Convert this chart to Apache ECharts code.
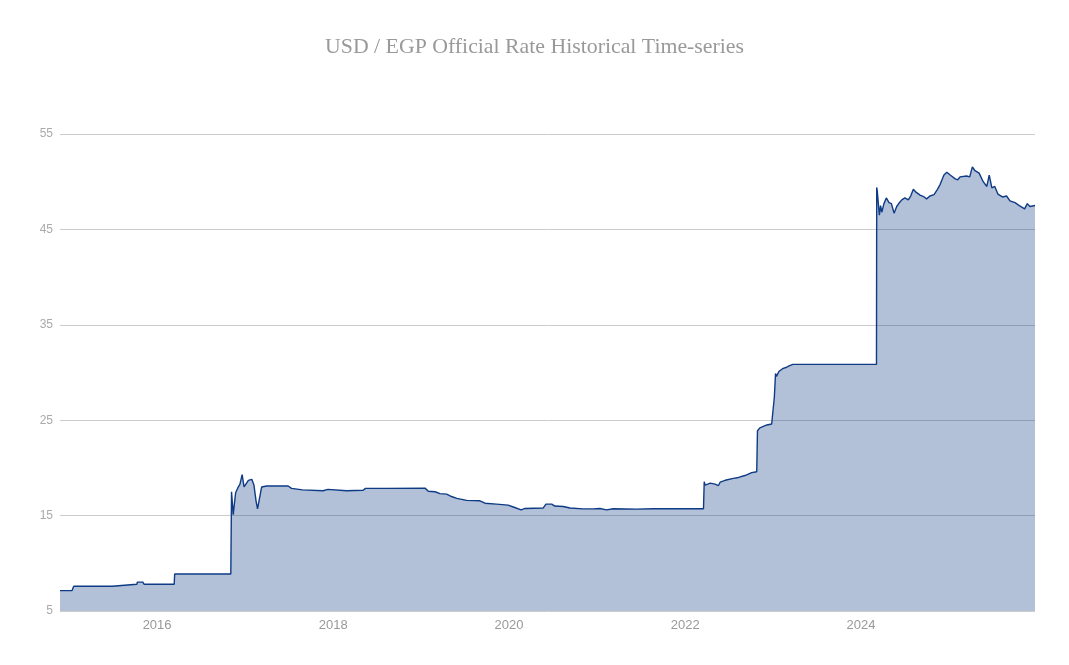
<!DOCTYPE html>
<html>
<head>
<meta charset="utf-8">
<script src="https://cdn.jsdelivr.net/npm/echarts@6/dist/echarts.min.js"></script>
<style>
html,body{margin:0;padding:0;background:#fff;}
#chart{width:1069px;height:665px;}
</style>
</head>
<body>
<div id="chart"></div>
<script>
const chartTitle = 'USD / EGP Official Rate Historical Time-series';
const yTicks = [5, 15, 25, 35, 45, 55];
const xTickYears = ['2016', '2018', '2020', '2022', '2024'];

const dates = [
'2014-11-24','2015-01-13','2015-01-20','2015-06-29','2015-07-05','2015-10-09','2015-10-11','2015-11-03','2015-11-08','2016-03-12','2016-03-14','2016-11-02',
'2016-11-05','2016-11-12','2016-11-22','2016-12-01','2016-12-10','2016-12-19','2016-12-27','2017-01-04','2017-01-14','2017-01-28','2017-02-06','2017-02-15','2017-02-21','2017-02-28','2017-03-10','2017-03-31','2017-06-28','2017-07-12','2017-08-27','2017-11-20','2017-12-10','2018-02-26','2018-05-05','2018-05-15','2018-08-11','2019-01-17','2019-01-31','2019-02-28','2019-03-20','2019-04-17','2019-05-07','2019-05-29','2019-07-09','2019-09-02','2019-09-23','2019-11-10','2019-12-28','2020-01-19','2020-02-20','2020-03-07','2020-05-22','2020-06-02','2020-06-26','2020-07-09','2020-08-13','2020-09-10','2020-11-03','2020-12-16','2021-01-12','2021-02-09','2021-03-08','2021-06-13','2021-08-22','2022-03-18',
'2022-03-21','2022-03-25','2022-04-15','2022-05-05','2022-05-19','2022-05-26','2022-06-16','2022-07-20','2022-08-10','2022-09-06','2022-10-04','2022-10-25','2022-10-28','2022-11-07','2022-12-06','2022-12-26','2023-01-03','2023-01-06','2023-01-11','2023-01-15','2023-01-25','2023-02-09','2023-02-26','2023-03-08','2023-03-24','2024-03-05',
'2024-03-06','2024-03-08','2024-03-17','2024-03-22','2024-03-27','2024-04-05','2024-04-15','2024-04-26','2024-05-06','2024-05-17','2024-05-28','2024-06-08','2024-06-18','2024-07-01','2024-07-15','2024-07-25','2024-08-05','2024-08-16','2024-09-02','2024-09-19','2024-09-29','2024-10-13','2024-10-30','2024-11-13','2024-11-24','2024-12-01','2024-12-10','2024-12-22',
'2025-01-05','2025-01-26','2025-02-05','2025-02-15','2025-03-14','2025-03-27','2025-04-07','2025-04-18','2025-05-05','2025-05-22','2025-06-06','2025-06-16','2025-06-27','2025-07-09','2025-07-22','2025-08-10','2025-08-27','2025-09-10','2025-10-01','2025-10-19','2025-11-10','2025-11-21','2025-12-02','2025-12-23'
];

const rates = [
7.14, 7.14, 7.60, 7.60, 7.80, 7.80, 8.03, 8.03, 7.80, 7.80, 8.88, 8.88,
17.5, 15.1, 17.4, 17.9, 18.3, 19.3, 18.0, 18.2, 18.7, 18.8, 18.2, 16.5, 15.7, 15.8, 18.0, 18.1, 18.1, 17.85, 17.7, 17.6, 17.75, 17.6, 17.65, 17.85, 17.85, 17.88, 17.55, 17.5, 17.3, 17.25, 17.0, 16.8, 16.6, 16.55, 16.3, 16.2, 16.1, 15.9, 15.6, 15.75, 15.8, 16.2, 16.2, 16.0, 15.95, 15.8, 15.7, 15.7, 15.75, 15.6, 15.72, 15.68, 15.72, 15.72,
18.55, 18.2, 18.4, 18.3, 18.15, 18.5, 18.7, 18.9, 19.0, 19.2, 19.5, 19.6, 23.9, 24.2, 24.5, 24.6, 24.7, 27.4, 29.9, 29.6, 30.1, 30.4, 30.55, 30.7, 30.85, 30.85,
49.4, 49.1, 46.5, 47.5, 46.8, 47.7, 48.3, 47.8, 47.7, 46.7, 47.4, 47.8, 48.1, 48.3, 48.1, 48.5, 49.2, 48.9, 48.6, 48.4, 48.2, 48.5, 48.65, 49.2, 49.7, 49.8, 50.7, 51.0,
50.7, 50.3, 50.2, 50.5, 50.6, 50.5, 51.55, 51.15, 50.9, 50.0, 49.5, 50.7, 49.35, 49.5, 48.7, 48.4, 48.5, 48.0, 47.8, 47.5, 47.15, 47.7, 47.4, 47.5
];

const seriesData = dates.map((d, i) => [d, rates[i]]);
const YEAR = 365.25 * 24 * 3600 * 1000;

const chart = echarts.init(document.getElementById('chart'), null, {renderer: 'canvas'});
chart.setOption({
  animation: false,
  backgroundColor: '#ffffff',
  title: {
    text: chartTitle,
    left: 'center',
    top: 31,
    textStyle: {
      fontFamily: '"Liberation Serif", serif',
      fontSize: 21.8,
      fontWeight: 'normal',
      color: '#999999'
    }
  },
  grid: {left: 60, right: 34, top: 134, bottom: 54, containLabel: false},
  xAxis: {
    type: 'time',
    min: dates[0],
    max: dates[dates.length - 1],
    minInterval: YEAR,
    maxInterval: YEAR,
    splitLine: {show: false},
    axisLine: {show: false},
    axisTick: {show: false},
    axisLabel: {
      showMinLabel: false,
      showMaxLabel: false,
      margin: 8,
      color: '#999999',
      fontFamily: '"Liberation Sans", Arial, sans-serif',
      fontSize: 13,
      formatter: function (v) {
        const y = String(new Date(v).getFullYear());
        return xTickYears.indexOf(y) >= 0 ? y : '';
      }
    }
  },
  yAxis: {
    type: 'value',
    min: yTicks[0],
    max: yTicks[yTicks.length - 1],
    interval: 10,
    axisLine: {show: false},
    axisTick: {show: false},
    splitLine: {lineStyle: {color: '#cccccc', width: 1}},
    axisLabel: {
      margin: 7,
      color: '#aaaaaa',
      fontFamily: '"Liberation Sans", Arial, sans-serif',
      fontSize: 12
    }
  },
  series: [{
    type: 'line',
    data: seriesData,
    showSymbol: false,
    symbol: 'none',
    smooth: false,
    lineStyle: {color: '#0e3b85', width: 1.4},
    areaStyle: {color: '#0e3b85', opacity: 0.32, origin: 'start'}
  }]
});
</script>
</body>
</html>
